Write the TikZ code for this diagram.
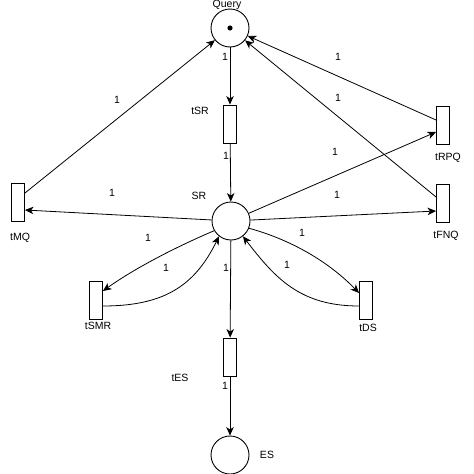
\documentclass[tikz,border=0pt]{standalone}
\usepackage{fontspec}
\setmainfont{Liberation Sans}
\usetikzlibrary{arrows.meta}
\begin{document}
\begin{tikzpicture}[x=1pt,y=-1pt,
  place/.style={circle,draw,line width=0.9pt,minimum size=38pt,inner sep=0pt},
  trans/.style={rectangle,draw,line width=0.9pt,minimum width=13pt,minimum height=38pt,inner sep=0pt},
  lbl/.style={font=\fontsize{10.5}{12}\selectfont,inner sep=0pt},
  wt/.style={font=\fontsize{10.5}{12}\selectfont,inner sep=0pt},
  arc/.style={draw,line width=0.8pt,-{Stealth[length=8.5pt,width=7.5pt,inset=2.5pt]}}]
\useasboundingbox (0,0) rectangle (474,474);
% places
\node[place] (Query) at (230,28) {};
\fill (230,28) circle (2.6pt);
\node[place] (SR) at (231,221) {};
\node[place] (ES) at (230,455) {};
% transitions
\node[trans] (tSR) at (230,124) {};
\node[trans] (tMQ) at (18,202) {};
\node[trans] (tRPQ) at (443,125) {};
\node[trans] (tFNQ) at (443,203) {};
\node[trans] (tSMR) at (96,300) {};
\node[trans] (tDS) at (366,300) {};
\node[trans] (tES) at (230,357) {};
% labels
\node[lbl] (lQuery) at (227,4.5) {Query};
\node[lbl] (ltSR) at (200,111) {tSR};
\node[lbl] (lSR) at (199,196) {SR};
\node[lbl] (ltMQ) at (20,238) {tMQ};
\node[lbl] (ltRPQ) at (448,158) {tRPQ};
\node[lbl] (ltFNQ) at (446,236) {tFNQ};
\node[lbl] (ltSMR) at (98,326) {tSMR};
\node[lbl] (ltDS) at (368,328) {tDS};
\node[lbl] (ltES) at (180,378) {tES};
\node[lbl] (lES) at (267,455) {ES};
% arcs
\draw[arc] (Query) -- (tSR);
\draw[arc] (tSR) -- (SR);
\draw[arc] (SR) -- (tES);
\draw[arc] (tES) -- (ES);
\draw[arc] ([yshift=9pt]tMQ.east) -- (Query);
\draw[arc] ([yshift=5pt]tRPQ.west) -- (Query);
\draw[arc] ([yshift=6pt]tFNQ.west) -- (Query);
\draw[arc] (SR) -- ([yshift=-8pt]tMQ.east);
\draw[arc] (SR) -- ([yshift=-7pt]tRPQ.west);
\draw[arc] (SR) -- ([yshift=-8pt]tFNQ.west);
\draw[arc] (SR.-150) .. controls (178,246) and (135,268) .. ([yshift=9pt]tSMR.east);
\draw[arc] ([yshift=-6pt]tSMR.east) .. controls (165,306) and (195,285) .. (SR.-128);
\draw[arc] (SR.-22) .. controls (285,238) and (325,258) .. ([yshift=7pt]tDS.west);
\draw[arc] ([yshift=-6pt]tDS.west) .. controls (300,306) and (275,278) .. (SR.-52);
% weights
\node[wt] (w1) at (225,57) {1};
\node[wt] (w2) at (226,156) {1};
\node[wt] (w3) at (226,268) {1};
\node[wt] (w4) at (225,386) {1};
\node[wt] (w5) at (117,100) {1};
\node[wt] (w6) at (338,57) {1};
\node[wt] (w7) at (338,98) {1};
\node[wt] (w8) at (335,152) {1};
\node[wt] (w9) at (337,195) {1};
\node[wt] (w10) at (112,193) {1};
\node[wt] (w11) at (148,238) {1};
\node[wt] (w12) at (166,268) {1};
\node[wt] (w13) at (302,233) {1};
\node[wt] (w14) at (287,265) {1};
\end{tikzpicture}
\end{document}
